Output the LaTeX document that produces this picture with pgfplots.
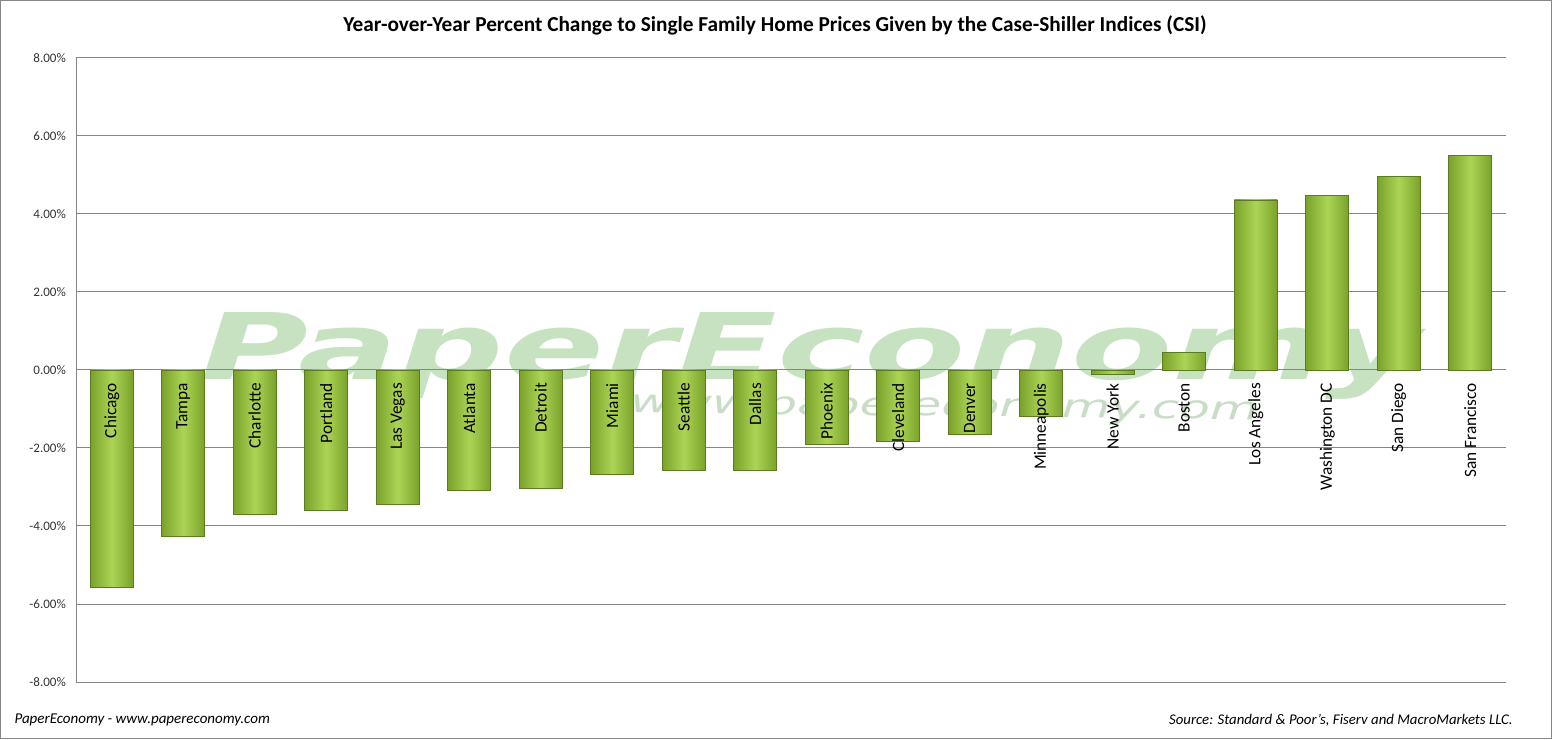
\documentclass[border=0pt]{standalone}
\usepackage{fontspec}
\setmainfont{Carlito}
\newfontfamily\wmfont{DejaVu Sans}
\usepackage{pgfplots}
\pgfplotsset{compat=1.18}
\definecolor{gridgray}{RGB}{134,134,134}
\definecolor{barmid}{RGB}{172,212,86}
\definecolor{baredge}{RGB}{122,162,42}
\definecolor{bardraw}{RGB}{92,122,34}
\definecolor{wmgreen}{RGB}{198,226,192}
\definecolor{wmgray}{RGB}{200,220,198}
\pgfplotsset{
  mybar/.style={ybar,bar width=43pt,bar shift=0pt,draw=bardraw,line width=0.8pt,
    left color=baredge,right color=baredge,middle color=barmid},
}
\tikzset{
  lab/.style={yshift=-13pt,rotate=90,anchor=east,inner sep=0pt,font=\fontsize{17.3}{19}\selectfont,text=black},
}
\begin{document}
\begin{tikzpicture}
\draw[color=gridgray,line width=1pt] (0.5pt,0.5pt) rectangle (1551.5pt,738.5pt);
% watermark
\node[anchor=base west,inner sep=0pt,text=wmgreen] at (200pt,359pt)
  {\resizebox{1220pt}{67pt}{\wmfont\bfseries\itshape PaperEconomy}};
\node[anchor=base west,inner sep=0pt,text=wmgray,rotate=-0.6] at (630pt,326pt)
  {\resizebox{628pt}{18pt}{\wmfont\itshape www.papereconomy.com}};
% title
\node[font=\fontsize{21.3}{24}\selectfont\bfseries] at (775pt,714pt)
  {Year-over-Year Percent Change to Single Family Home Prices Given by the Case-Shiller Indices (CSI)};
% footers
\node[anchor=west,font=\fontsize{15}{17}\selectfont\itshape] at (11pt,19pt) {PaperEconomy - www.papereconomy.com};
\node[anchor=east,font=\fontsize{14.8}{17}\selectfont\itshape] at (1516pt,19pt) {Source: Standard \& Poor's, Fiserv and MacroMarkets LLC.};
\begin{axis}[
  scale only axis,
  width=1430pt, height=624pt,
  at={(76pt,57pt)}, anchor=south west,
  xmin=-0.5, xmax=19.5,
  ymin=-8, ymax=8,
  axis x line=middle,
  axis y line=left,
  axis line style={-,draw=gridgray,line width=1pt},
  hide obscured x ticks=false,
  hide obscured y ticks=false,
  major tick length=0pt,
  ymajorgrids,
  grid style={draw=gridgray,line width=1pt},
  xtick=\empty,
  ytick={-8,-6,-4,-2,0,2,4,6,8},
  yticklabels={-8.00\%,-6.00\%,-4.00\%,-2.00\%,0.00\%,2.00\%,4.00\%,6.00\%,8.00\%},
  yticklabel style={xshift=-10pt,anchor=east,inner sep=0pt,font=\fontsize{13}{15}\selectfont,text=black!80},
  /pgf/number format/assume math mode=true,
]
\addplot[mybar] coordinates {(0,-5.57)};
\addplot[mybar] coordinates {(1,-4.27)};
\addplot[mybar] coordinates {(2,-3.71)};
\addplot[mybar] coordinates {(3,-3.61)};
\addplot[mybar] coordinates {(4,-3.45)};
\addplot[mybar] coordinates {(5,-3.08)};
\addplot[mybar] coordinates {(6,-3.04)};
\addplot[mybar] coordinates {(7,-2.68)};
\addplot[mybar] coordinates {(8,-2.58)};
\addplot[mybar] coordinates {(9,-2.58)};
\addplot[mybar] coordinates {(10,-1.92)};
\addplot[mybar] coordinates {(11,-1.83)};
\addplot[mybar] coordinates {(12,-1.64)};
\addplot[mybar] coordinates {(13,-1.20)};
\addplot[mybar] coordinates {(14,-0.12)};
\addplot[mybar] coordinates {(15,0.44)};
\addplot[mybar] coordinates {(16,4.36)};
\addplot[mybar] coordinates {(17,4.47)};
\addplot[mybar] coordinates {(18,4.96)};
\addplot[mybar] coordinates {(19,5.49)};
\node[lab] at (axis cs:0,0) {Chicago};
\node[lab] at (axis cs:1,0) {Tampa};
\node[lab] at (axis cs:2,0) {Charlotte};
\node[lab] at (axis cs:3,0) {Portland};
\node[lab] at (axis cs:4,0) {Las Vegas};
\node[lab] at (axis cs:5,0) {Atlanta};
\node[lab] at (axis cs:6,0) {Detroit};
\node[lab] at (axis cs:7,0) {Miami};
\node[lab] at (axis cs:8,0) {Seattle};
\node[lab] at (axis cs:9,0) {Dallas};
\node[lab] at (axis cs:10,0) {Phoenix};
\node[lab] at (axis cs:11,0) {Cleveland};
\node[lab] at (axis cs:12,0) {Denver};
\node[lab] at (axis cs:13,0) {Minneapolis};
\node[lab] at (axis cs:14,0) {New York};
\node[lab] at (axis cs:15,0) {Boston};
\node[lab] at (axis cs:16,0) {Los Angeles};
\node[lab] at (axis cs:17,0) {Washington DC};
\node[lab] at (axis cs:18,0) {San Diego};
\node[lab] at (axis cs:19,0) {San Francisco};
\end{axis}
\useasboundingbox (0pt,0pt) rectangle (1552pt,739pt);
\end{tikzpicture}
\end{document}
